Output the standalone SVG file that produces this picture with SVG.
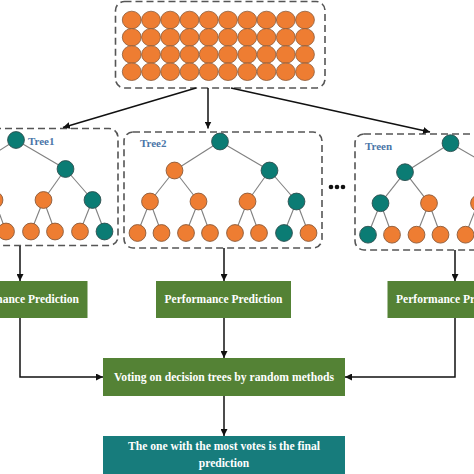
<svg xmlns="http://www.w3.org/2000/svg" width="474" height="474" viewBox="0 0 474 474">
<defs>
<marker id="arr" viewBox="0 0 10 10" refX="10" refY="5" markerWidth="7" markerHeight="7" markerUnits="userSpaceOnUse" orient="auto">
<path d="M0,0 L10,5 L0,10 z" fill="#111"/>
</marker>
</defs>
<style>
.frame{fill:none;stroke:#555;stroke-width:1.6;stroke-dasharray:7 4}
.g{fill:#ee7d32;stroke:#8a5a3a;stroke-width:0.8}
.o{fill:#ee7d32;stroke:#8a5a3a;stroke-width:0.9}
.t{fill:#0b7c74;stroke:#2f4f4f;stroke-width:0.9}
.e{stroke:#808080;stroke-width:1.1;fill:none}
.c{stroke:#111;stroke-width:1.5;fill:none}
.lbl{font-family:"Liberation Serif",serif;font-weight:bold;font-size:11px;fill:#4a76a8}
.box{fill:#548235}
.tbox{fill:#177c7c}
.bt{font-family:"Liberation Serif",serif;font-weight:bold;font-size:11.5px;fill:#fff;text-anchor:middle}
</style>
<rect width="474" height="474" fill="#fff"/>

<g id="data">
<rect class="frame" x="115.5" y="1.5" width="209.5" height="86.5" rx="9"/>
<g id="grid">
<ellipse class="g" cx="131.7" cy="20" rx="9.4" ry="8.8"/><ellipse class="g" cx="151" cy="20" rx="9.4" ry="8.8"/><ellipse class="g" cx="170.2" cy="20" rx="9.4" ry="8.8"/><ellipse class="g" cx="189.5" cy="20" rx="9.4" ry="8.8"/><ellipse class="g" cx="208.7" cy="20" rx="9.4" ry="8.8"/><ellipse class="g" cx="228" cy="20" rx="9.4" ry="8.8"/><ellipse class="g" cx="247.3" cy="20" rx="9.4" ry="8.8"/><ellipse class="g" cx="266.5" cy="20" rx="9.4" ry="8.8"/><ellipse class="g" cx="285.8" cy="20" rx="9.4" ry="8.8"/><ellipse class="g" cx="305" cy="20" rx="9.4" ry="8.8"/>
<ellipse class="g" cx="131.7" cy="37.3" rx="9.4" ry="8.8"/><ellipse class="g" cx="151" cy="37.3" rx="9.4" ry="8.8"/><ellipse class="g" cx="170.2" cy="37.3" rx="9.4" ry="8.8"/><ellipse class="g" cx="189.5" cy="37.3" rx="9.4" ry="8.8"/><ellipse class="g" cx="208.7" cy="37.3" rx="9.4" ry="8.8"/><ellipse class="g" cx="228" cy="37.3" rx="9.4" ry="8.8"/><ellipse class="g" cx="247.3" cy="37.3" rx="9.4" ry="8.8"/><ellipse class="g" cx="266.5" cy="37.3" rx="9.4" ry="8.8"/><ellipse class="g" cx="285.8" cy="37.3" rx="9.4" ry="8.8"/><ellipse class="g" cx="305" cy="37.3" rx="9.4" ry="8.8"/>
<ellipse class="g" cx="131.7" cy="54.5" rx="9.4" ry="8.8"/><ellipse class="g" cx="151" cy="54.5" rx="9.4" ry="8.8"/><ellipse class="g" cx="170.2" cy="54.5" rx="9.4" ry="8.8"/><ellipse class="g" cx="189.5" cy="54.5" rx="9.4" ry="8.8"/><ellipse class="g" cx="208.7" cy="54.5" rx="9.4" ry="8.8"/><ellipse class="g" cx="228" cy="54.5" rx="9.4" ry="8.8"/><ellipse class="g" cx="247.3" cy="54.5" rx="9.4" ry="8.8"/><ellipse class="g" cx="266.5" cy="54.5" rx="9.4" ry="8.8"/><ellipse class="g" cx="285.8" cy="54.5" rx="9.4" ry="8.8"/><ellipse class="g" cx="305" cy="54.5" rx="9.4" ry="8.8"/>
<ellipse class="g" cx="131.7" cy="71.7" rx="9.4" ry="8.8"/><ellipse class="g" cx="151" cy="71.7" rx="9.4" ry="8.8"/><ellipse class="g" cx="170.2" cy="71.7" rx="9.4" ry="8.8"/><ellipse class="g" cx="189.5" cy="71.7" rx="9.4" ry="8.8"/><ellipse class="g" cx="208.7" cy="71.7" rx="9.4" ry="8.8"/><ellipse class="g" cx="228" cy="71.7" rx="9.4" ry="8.8"/><ellipse class="g" cx="247.3" cy="71.7" rx="9.4" ry="8.8"/><ellipse class="g" cx="266.5" cy="71.7" rx="9.4" ry="8.8"/><ellipse class="g" cx="285.8" cy="71.7" rx="9.4" ry="8.8"/><ellipse class="g" cx="305" cy="71.7" rx="9.4" ry="8.8"/>
</g>
</g>

<g id="tree1">
<rect class="frame" x="-81" y="128.5" width="199" height="117" rx="9"/>
<g class="edges">
<line class="e" x1="16" y1="140" x2="-29.5" y2="169"/>
<line class="e" x1="16" y1="140" x2="65.5" y2="169"/>
<line class="e" x1="65.5" y1="169" x2="43.5" y2="200"/>
<line class="e" x1="65.5" y1="169" x2="92.5" y2="200"/>
<line class="e" x1="-5.5" y1="200" x2="6" y2="231.5"/>
<line class="e" x1="43.5" y1="200" x2="31" y2="231.5"/>
<line class="e" x1="43.5" y1="200" x2="55" y2="231.5"/>
<line class="e" x1="92.5" y1="200" x2="80" y2="231.5"/>
<line class="e" x1="92.5" y1="200" x2="104.5" y2="231.5"/>
</g>
<circle class="t" cx="16" cy="140" r="8.4"/>
<circle class="t" cx="65.5" cy="169" r="8.4"/>
<circle class="o" cx="-5.5" cy="200" r="8.4"/>
<circle class="o" cx="43.5" cy="200" r="8.4"/>
<circle class="t" cx="92.5" cy="200" r="8.4"/>
<circle class="o" cx="6" cy="231.5" r="8.4"/>
<circle class="o" cx="31" cy="231.5" r="8.4"/>
<circle class="o" cx="55" cy="231.5" r="8.4"/>
<circle class="o" cx="80" cy="231.5" r="8.4"/>
<circle class="t" cx="104.5" cy="231.5" r="8.4"/>
<text class="lbl" x="28" y="145">Tree1</text>
</g>

<g id="tree2">
<rect class="frame" x="124" y="132" width="198" height="116" rx="9"/>
<g class="edges">
<line class="e" x1="220" y1="141.5" x2="174.5" y2="170.5"/>
<line class="e" x1="220" y1="141.5" x2="269.5" y2="170.5"/>
<line class="e" x1="174.5" y1="170.5" x2="150" y2="201.5"/>
<line class="e" x1="174.5" y1="170.5" x2="198.5" y2="201.5"/>
<line class="e" x1="269.5" y1="170.5" x2="247.5" y2="201.5"/>
<line class="e" x1="269.5" y1="170.5" x2="296.5" y2="201.5"/>
<line class="e" x1="150" y1="201.5" x2="137.5" y2="233"/>
<line class="e" x1="150" y1="201.5" x2="161.5" y2="233"/>
<line class="e" x1="198.5" y1="201.5" x2="186" y2="233"/>
<line class="e" x1="198.5" y1="201.5" x2="210" y2="233"/>
<line class="e" x1="247.5" y1="201.5" x2="235" y2="233"/>
<line class="e" x1="247.5" y1="201.5" x2="259" y2="233"/>
<line class="e" x1="296.5" y1="201.5" x2="284" y2="233"/>
<line class="e" x1="296.5" y1="201.5" x2="308.5" y2="233"/>
</g>
<circle class="t" cx="220" cy="141.5" r="8.4"/>
<circle class="o" cx="174.5" cy="170.5" r="8.4"/>
<circle class="t" cx="269.5" cy="170.5" r="8.4"/>
<circle class="o" cx="150" cy="201.5" r="8.4"/>
<circle class="o" cx="198.5" cy="201.5" r="8.4"/>
<circle class="o" cx="247.5" cy="201.5" r="8.4"/>
<circle class="t" cx="296.5" cy="201.5" r="8.4"/>
<circle class="o" cx="137.5" cy="233" r="8.4"/>
<circle class="o" cx="161.5" cy="233" r="8.4"/>
<circle class="o" cx="186" cy="233" r="8.4"/>
<circle class="o" cx="210" cy="233" r="8.4"/>
<circle class="o" cx="235" cy="233" r="8.4"/>
<circle class="o" cx="259" cy="233" r="8.4"/>
<circle class="t" cx="284" cy="233" r="8.4"/>
<circle class="o" cx="308.5" cy="233" r="8.4"/>
<text class="lbl" x="140" y="147">Tree2</text>
</g>

<g id="ellipsis">
<circle cx="331" cy="187" r="2.3" fill="#111"/>
<circle cx="337" cy="187" r="2.3" fill="#111"/>
<circle cx="343" cy="187" r="2.3" fill="#111"/>
</g>

<g id="treen">
<rect class="frame" x="355" y="134" width="198" height="116" rx="9"/>
<g class="edges">
<line class="e" x1="450.5" y1="143.2" x2="405" y2="172.2"/>
<line class="e" x1="450.5" y1="143.2" x2="500" y2="172.2"/>
<line class="e" x1="405" y1="172.2" x2="380.5" y2="203.2"/>
<line class="e" x1="405" y1="172.2" x2="429" y2="203.2"/>
<line class="e" x1="380.5" y1="203.2" x2="368" y2="234.7"/>
<line class="e" x1="380.5" y1="203.2" x2="392" y2="234.7"/>
<line class="e" x1="429" y1="203.2" x2="416.5" y2="234.7"/>
<line class="e" x1="429" y1="203.2" x2="440.5" y2="234.7"/>
<line class="e" x1="478" y1="203.2" x2="465.5" y2="234.7"/>
</g>
<circle class="t" cx="450.5" cy="143.2" r="8.4"/>
<circle class="t" cx="405" cy="172.2" r="8.4"/>
<circle class="t" cx="380.5" cy="203.2" r="8.4"/>
<circle class="o" cx="429" cy="203.2" r="8.4"/>
<circle class="o" cx="479" cy="203.2" r="8.4"/>
<circle class="t" cx="368" cy="234.7" r="8.4"/>
<circle class="o" cx="392" cy="234.7" r="8.4"/>
<circle class="o" cx="416.5" cy="234.7" r="8.4"/>
<circle class="o" cx="440.5" cy="234.7" r="8.4"/>
<circle class="o" cx="465.5" cy="234.7" r="8.4"/>
<text class="lbl" x="365" y="149.5">Treen</text>
</g>

<g id="connectors">
<line class="c" x1="196" y1="88" x2="63" y2="127.5" marker-end="url(#arr)"/>
<line class="c" x1="208" y1="88" x2="208" y2="128.5" marker-end="url(#arr)"/>
<line class="c" x1="231" y1="88" x2="430" y2="132" marker-end="url(#arr)"/>
<line class="c" x1="20" y1="246" x2="20" y2="281" marker-end="url(#arr)"/>
<line class="c" x1="224" y1="248" x2="224" y2="281" marker-end="url(#arr)"/>
<line class="c" x1="455" y1="250" x2="455" y2="281" marker-end="url(#arr)"/>
<line class="c" x1="224" y1="318" x2="224" y2="358" marker-end="url(#arr)"/>
<polyline class="c" points="20,318 20,377 103,377" marker-end="url(#arr)"/>
<polyline class="c" points="455,318 455,377 345,377" marker-end="url(#arr)"/>
<line class="c" x1="224" y1="396" x2="224" y2="436" marker-end="url(#arr)"/>
</g>

<g id="perf1">
<rect class="box" x="-47.5" y="281" width="135" height="37"/>
<text class="bt" x="20" y="302.5" textLength="118" lengthAdjust="spacingAndGlyphs">Performance Prediction</text>
</g>
<g id="perf2">
<rect class="box" x="156" y="281" width="135" height="37"/>
<text class="bt" x="223.5" y="302.5" textLength="118" lengthAdjust="spacingAndGlyphs">Performance Prediction</text>
</g>
<g id="perfn">
<rect class="box" x="387.5" y="281" width="135" height="37"/>
<text class="bt" x="455" y="302.5" textLength="118" lengthAdjust="spacingAndGlyphs">Performance Prediction</text>
</g>
<g id="voting">
<rect class="box" x="103" y="358" width="242" height="38"/>
<text class="bt" x="224" y="380.5" textLength="220" lengthAdjust="spacingAndGlyphs">Voting on decision trees by random methods</text>
</g>
<g id="final">
<rect class="tbox" x="103" y="436" width="242" height="45"/>
<text class="bt" x="224" y="450" textLength="192" lengthAdjust="spacingAndGlyphs">The one with the most votes is the final</text>
<text class="bt" x="224" y="467">prediction</text>
</g>
</svg>
